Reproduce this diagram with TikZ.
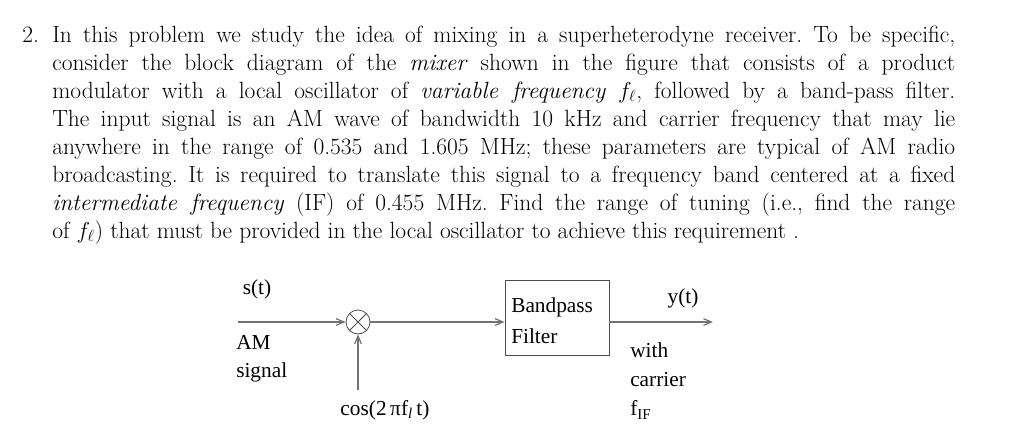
\documentclass[tikz,border=0pt]{standalone}
\usepackage{fontspec}
\newfontfamily\tms{Liberation Serif}
\usetikzlibrary{arrows.meta}
\begin{document}
\frenchspacing
\begin{tikzpicture}[x=0.75pt,y=-0.75pt,
  ln/.style={anchor=base west,inner sep=0pt,font=\fontsize{17.6}{20}\selectfont},
  lab/.style={inner sep=0pt,font=\tms\fontsize{16}{19}\selectfont},
  wire/.style={draw=black!55,line width=0.9pt},
  arr/.style={wire,-{Straight Barb[length=6pt,width=5pt]}}]
\useasboundingbox (0,0) rectangle (1011,446);
\node[ln] (n) at (22,42) {2.};
\node[ln] (l1) at (52,42) {\makebox[677.25pt][s]{In this problem we study the idea of mixing in a superheterodyne receiver. To be specific,}};
\node[ln] (l2) at (52,70) {\makebox[677.25pt][s]{consider the block diagram of the \emph{mixer} shown in the figure that consists of a product}};
\node[ln] (l3) at (52,98) {\makebox[677.25pt][s]{modulator with a local oscillator of \emph{variable frequency} $f_\ell$, followed by a band-pass filter.}};
\node[ln] (l4) at (52,126) {\makebox[677.25pt][s]{The input signal is an AM wave of bandwidth 10 kHz and carrier frequency that may lie}};
\node[ln] (l5) at (52,154) {\makebox[677.25pt][s]{anywhere in the range of 0.535 and 1.605 MHz; these parameters are typical of AM radio}};
\node[ln] (l6) at (52,182) {\makebox[677.25pt][s]{broadcasting. It is required to translate this signal to a frequency band centered at a fixed}};
\node[ln] (l7) at (52,210) {\makebox[677.25pt][s]{\emph{intermediate frequency} (IF) of 0.455 MHz. Find the range of tuning (i.e., find the range}};
\node[ln] (l8) at (52,238) {of $f_\ell$) that must be provided in the local oscillator to achieve this requirement .};
% diagram
\coordinate (in) at (238,322);
\node[circle,draw=black!70,line width=0.6pt,minimum size=18pt,inner sep=0pt] (mx) at (358,322) {};
\draw[black!70,line width=0.6pt] (mx.45) -- (mx.225) (mx.135) -- (mx.315);
\node[draw=black!70,line width=0.6pt,minimum width=78pt,minimum height=56.25pt,inner sep=0pt] (bp) at (557,317.5) {};
\coordinate (out) at (713,322);
\coordinate (lo) at (358,390);
\draw[arr] (in) -- (mx);
\draw[arr] (lo) -- (mx);
\draw[arr] (mx) -- (bp.west |- mx);
\draw[arr] (bp.east |- mx) -- (out);
\node[lab] (s) at (257,289) {s(t)};
\node[lab,anchor=west] (am) at (236,342) {AM};
\node[lab,anchor=west] (sg) at (236,372) {signal};
\node[lab] (cs) at (385,410) {cos(2\,π{}f\textsubscript{\itshape l}\,t)};
\node[lab,anchor=west] (b1) at (511,307) {Bandpass};
\node[lab,anchor=west] (b2) at (511,336) {Filter};
\node[lab] (y) at (683,298) {y(t)};
\node[lab,anchor=west] (w) at (630,350) {with};
\node[lab,anchor=west] (c) at (630,380) {carrier};
\node[lab,anchor=west] (f) at (630,410) {f\textsubscript{IF}};
\end{tikzpicture}
\end{document}
